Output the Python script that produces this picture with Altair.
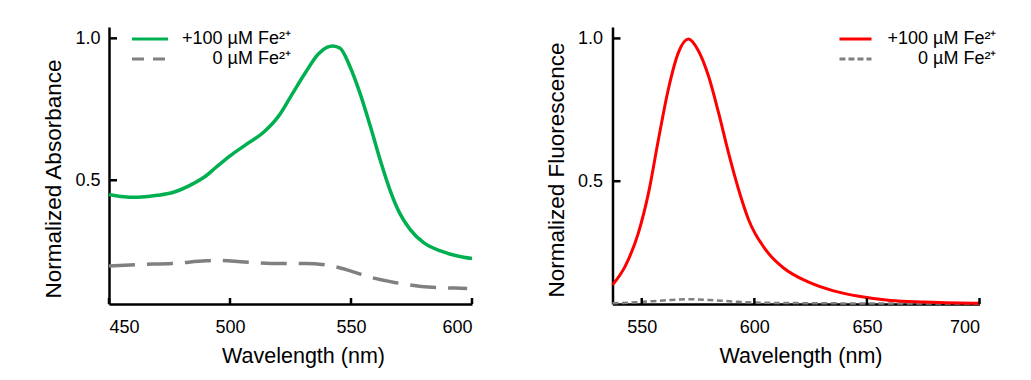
import altair as alt
import pandas as pd

LBL_FE = "+100 µM Fe²⁺"
LBL_0 = "0 µM Fe²⁺"

# Absorbance panel
abs_fe_wl = [450, 455, 462, 470, 476, 485, 490, 494, 500, 507, 514, 520, 525.5, 531, 536.5,
             540, 542.5, 545.5, 549.5, 553.7, 558, 562, 566, 570, 574.4, 580, 587, 594, 600]
abs_fe_val = [0.450, 0.443, 0.440, 0.447, 0.456, 0.489, 0.515, 0.544, 0.586, 0.628, 0.670, 0.725,
              0.801, 0.877, 0.945, 0.968, 0.973, 0.965, 0.902, 0.807, 0.690, 0.573, 0.468, 0.386,
              0.327, 0.280, 0.251, 0.233, 0.224]
abs_0_wl = [450, 462, 476, 490, 495, 506, 517, 531, 542, 550, 558.6, 568, 579, 593, 598]
abs_0_val = [0.198, 0.203, 0.207, 0.216, 0.218, 0.212, 0.207, 0.207, 0.198, 0.180, 0.157, 0.140,
             0.126, 0.120, 0.119]

# Fluorescence panel
fl_fe_wl = [537, 542.6, 548.5, 553, 557.4, 561.8, 566.3, 570.7, 575.2, 579.6, 584.1, 588.5, 593,
            597.4, 605.6, 613, 623.4, 635.2, 647.1, 660.5, 675.3, 697.5, 700]
fl_fe_val = [0.137, 0.202, 0.319, 0.459, 0.646, 0.822, 0.951, 0.998, 0.956, 0.869, 0.740, 0.600,
             0.471, 0.366, 0.254, 0.196, 0.149, 0.116, 0.096, 0.082, 0.077, 0.073, 0.073]
fl_0_wl = [537, 545, 555, 563, 571, 580, 590, 600, 620, 650, 700]
fl_0_val = [0.073, 0.075, 0.080, 0.084, 0.087, 0.084, 0.079, 0.075, 0.073, 0.072, 0.072]

abs_x_ticks = [450, 500, 550, 600]
fl_x_ticks = [550, 600, 650, 700]
y_ticks = [0.5, 1.0]

FONT = "Liberation Sans"
H = 277


def df(wl, val, name):
    return pd.DataFrame({"wl": wl, "val": val, "series": name})


def panel(fe_df, zero_df, xdom, ydom, xticks, xtitle, ytitle, ytitle_y, xtitle_x,
          fe_color, zero_dash, zero_width, fe_width, width, leg_x, leg_y, sym_size,
          label_offset, legend_dash, ylab_pad):
    x_enc = alt.X("wl:Q", title=xtitle,
                  scale=alt.Scale(domain=xdom, nice=False, zero=False),
                  axis=alt.Axis(values=xticks, ticks=False, grid=False, labelPadding=28,
                                labelBaseline="alphabetic", titleY=58.5, titleX=xtitle_x,
                                titleBaseline="alphabetic"))
    y_enc = alt.Y("val:Q", title=ytitle,
                  scale=alt.Scale(domain=ydom, nice=False, zero=False),
                  axis=alt.Axis(values=y_ticks, format=".1f", ticks=False, grid=False,
                                labelPadding=ylab_pad, titleX=-56, titleY=ytitle_y,
                                titleBaseline="middle", titleFontSize=22.5))
    legend = alt.Legend(
        title=None, orient="none", legendX=leg_x, legendY=leg_y,
        symbolType="M-3,0H3", symbolSize=sym_size, symbolStrokeWidth=3,
        labelAlign="right", labelOffset=label_offset, labelFontSize=18,
        labelFont=FONT, labelColor="black", labelLimit=300, padding=0,
        rowPadding=2,
    )
    color_enc = alt.Color(
        "series:N",
        scale=alt.Scale(domain=[LBL_FE, LBL_0], range=[fe_color, "#808080"]),
        legend=legend,
    )
    dash_enc = alt.StrokeDash(
        "series:N",
        scale=alt.Scale(domain=[LBL_FE, LBL_0], range=[[1, 0], list(legend_dash)]),
        legend=legend,
    )
    zero_line = alt.Chart(zero_df).mark_line(
        strokeWidth=zero_width, strokeDash=zero_dash, interpolate="monotone"
    ).encode(x=x_enc, y=y_enc, color=color_enc)
    fe_line = alt.Chart(fe_df).mark_line(strokeWidth=fe_width, interpolate="monotone").encode(
        x=x_enc, y=y_enc, color=color_enc)
    # one vertex per series: draws nothing, only feeds the legend
    key_df = pd.concat([fe_df.head(1), zero_df.head(1)])
    key = alt.Chart(key_df).mark_line(strokeWidth=3).encode(
        x=x_enc, y=y_enc, color=color_enc, strokeDash=dash_enc)
    ytick = alt.Chart(pd.DataFrame({"val": y_ticks})).mark_rule(
        color="black", strokeWidth=2.5
    ).encode(y=y_enc, x=alt.value(0), x2=alt.value(8))
    xtick = alt.Chart(pd.DataFrame({"wl": xticks})).mark_rule(
        color="black", strokeWidth=2.5
    ).encode(x=x_enc, y=alt.value(H), y2=alt.value(H - 6))
    return alt.layer(zero_line, fe_line, key, ytick, xtick).properties(width=width, height=H)


left = panel(df(abs_fe_wl, abs_fe_val, LBL_FE), df(abs_0_wl, abs_0_val, LBL_0),
             [450, 600], [0.064, 1.04], abs_x_ticks, "Wavelength (nm)",
             "Normalized Absorbance", 151.5, 194, "#00B050", [26, 12], 3.5, 3.5, 363,
             32, 3, 144, 132, (12, 9), 9)
right = panel(df(fl_fe_wl, fl_fe_val, LBL_FE), df(fl_0_wl, fl_0_val, LBL_0),
              [537, 700], [0.07, 1.04], fl_x_ticks, "Wavelength (nm)",
              "Normalized Fluorescence", 142.5, 188, "#FF0000", [6, 3.5], 2.5, 3, 367,
              234, 3, 114, 132, (6, 3), 10)

chart = alt.hconcat(left, right, spacing=66.5).resolve_scale(
    color="independent", strokeDash="independent", x="independent", y="independent"
).resolve_legend(color="independent", strokeDash="independent").properties(
    padding={"left": 34, "top": 19, "right": 5, "bottom": 5},
    background="white",
).configure_view(stroke=None).configure_axis(
    domainColor="black", domainWidth=2.5, labelFont=FONT, labelFontSize=18,
    labelColor="black", titleFont=FONT, titleFontSize=21.5, titleFontWeight="normal",
    titleColor="black",
)

chart.save("out.html", embed_options={"renderer": "svg", "actions": False})
